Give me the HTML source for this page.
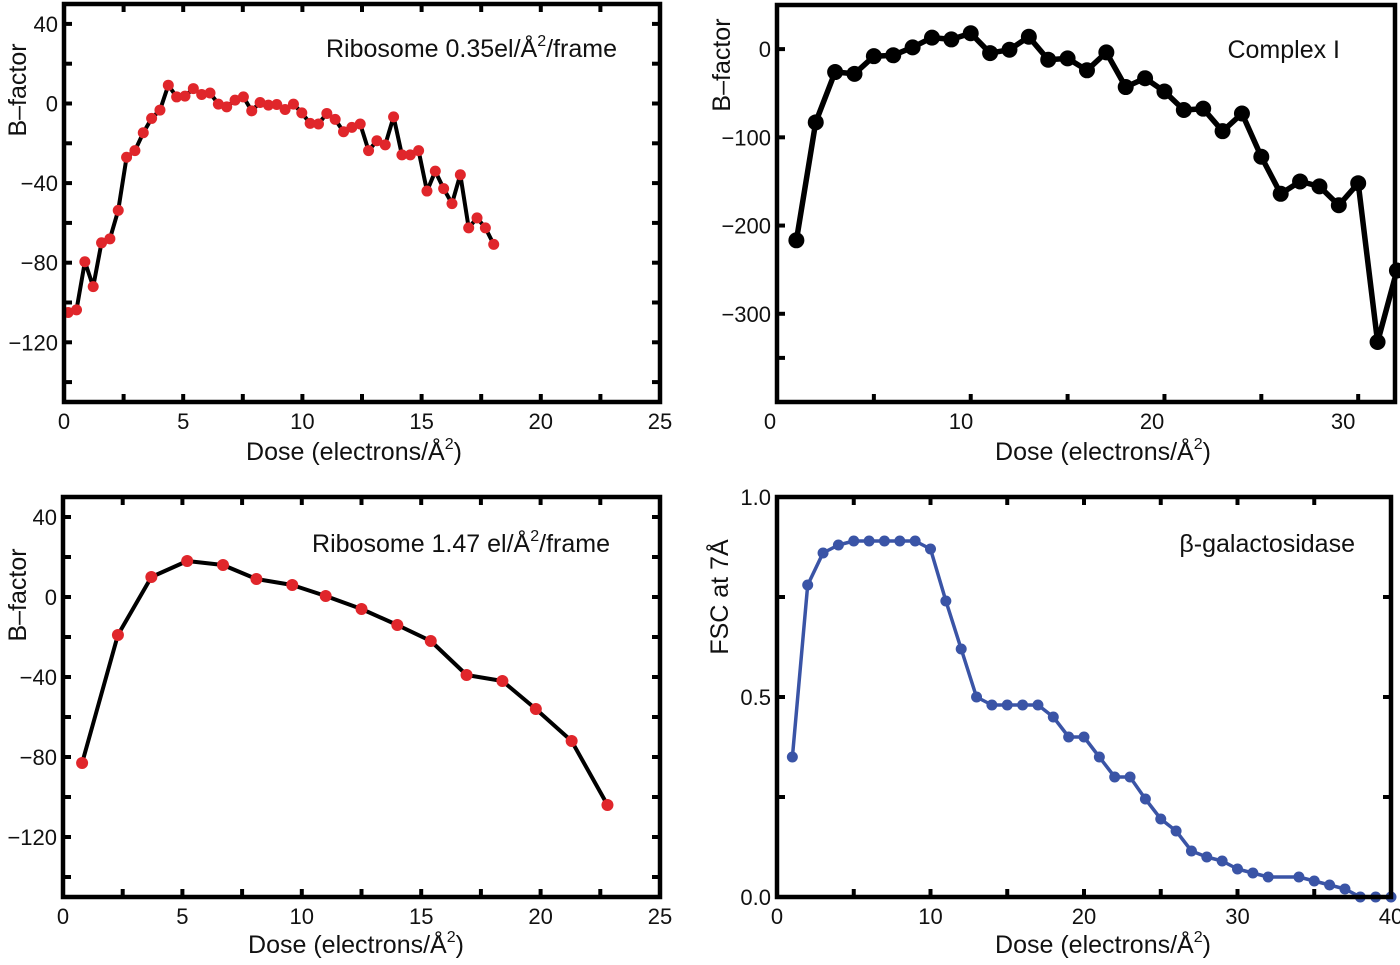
<!DOCTYPE html>
<html><head><meta charset="utf-8"><style>
body{margin:0;background:#fff;}
svg text{font-family:"Liberation Sans Narrow","Liberation Sans",sans-serif;fill:#111;}
</style></head><body>
<svg id="fig" width="1400" height="960" viewBox="0 0 1400 960" xmlns="http://www.w3.org/2000/svg"></svg>
<script>
// Panel A: Ribosome 0.35 el/Å²/frame
const riboAStart = 0.175, riboAStep = 0.35;
const riboAValues = [-105,-103.7,-79.5,-92,-70,-68,-53.7,-27,-23.7,-14.7,-7.5,-3.3,9.2,3.3,3.7,7.5,4.5,5.3,-0.3,-1.7,1.7,3.3,-3.7,0.5,-0.8,-0.5,-3,-0.3,-4.7,-10,-10.3,-5,-8,-14.2,-12,-10.3,-23.7,-18.7,-20.8,-6.7,-25.8,-25.8,-23.7,-44,-34,-42.8,-50.3,-35.8,-62.5,-57.5,-62.5,-70.8];
const riboATicksX = [0,5,10,15,20,25];
const riboATicksY = [40,0,-40,-80,-120];
// Panel B: Complex I
const cplxDose = [1,2,3,4,5,6,7,8,9,10,11,12,13,14,15,16,17,18,19,20,21,22,23,24,25,26,27,28,29,30,31,32];
const cplxB = [-216.7,-83,-26,-28,-8,-7,2,13,11,18,-4.5,-0.7,14,-12,-10.5,-24,-3.7,-43,-33,-48,-69,-67.5,-93,-73,-122,-164,-150,-155.6,-177,-152,-332,-251];
const cplxTicksX = [0,10,20,30];
const cplxTicksY = [0,-100,-200,-300];
// Panel C: Ribosome 1.47 el/Å²/frame
const riboCDose = [0.8,2.3,3.7,5.2,6.7,8.1,9.6,11.0,12.5,14.0,15.4,16.9,18.4,19.8,21.3,22.8];
const riboCB = [-83,-19,10,18,16,9,6,0.5,-6,-14,-22,-39,-42,-56,-72,-104];
// Panel D: beta-galactosidase
const galDose = [1,2,3,4,5,6,7,8,9,10,11,12,13,14,15,16,17,18,19,20,21,22,23,24,25,26,27,28,29,30,31,32,34,35,36,37,38,39,40];
const galFSC = [0.35,0.78,0.86,0.88,0.89,0.89,0.89,0.89,0.89,0.87,0.74,0.62,0.50,0.48,0.48,0.48,0.48,0.45,0.40,0.40,0.35,0.30,0.30,0.245,0.195,0.165,0.115,0.10,0.09,0.07,0.06,0.05,0.05,0.04,0.03,0.02,0.0,0.0,0.0];
const galTicksX = [0,10,20,30,40];
const galTicksY = [0.0,0.5,1.0];

const NS = "http://www.w3.org/2000/svg";
const svg = document.getElementById('fig');
function mk(tag, attrs, parent){const e=document.createElementNS(NS,tag);for(const k in attrs)e.setAttribute(k,attrs[k]);(parent||svg).appendChild(e);return e;}
function txt(s, x, y, size, anchor, parent, rot){
  const t=mk('text',{x:x,y:y,'font-size':size,'text-anchor':anchor||'middle'},parent);
  if(rot) t.setAttribute('transform','rotate(-90 '+x+' '+y+')');
  t.textContent=s; return t;
}
function doseLabel(cx, y, parent){
  const t=mk('text',{x:cx,y:y,'font-size':25,'text-anchor':'middle'},parent);
  
  
  t.appendChild(document.createTextNode('Dose (electrons/Å'));
  const s=mk('tspan',{'font-size':16,dy:-11},t); s.textContent='2';
  const s2=mk('tspan',{dy:11},t); s2.textContent=')';
}
function panel(o){
  const g=mk('g',{});
  
  
  const X=v=>o.x0+(v-o.xmin)/(o.xmax-o.xmin)*(o.x1-o.x0);
  const Y=v=>o.y1-(v-o.ymin)/(o.ymax-o.ymin)*(o.y1-o.y0);
  o.xt.forEach(v=>{const px=X(v);
    mk('line',{x1:px,x2:px,y1:o.y1,y2:o.y1-8,stroke:'#000','stroke-width':4},g);
    if(o.topTicks) mk('line',{x1:px,x2:px,y1:o.y0,y2:o.y0+8,stroke:'#000','stroke-width':4},g);});
  o.yt.forEach(v=>{const py=Y(v);
    mk('line',{x1:o.x0,x2:o.x0+8,y1:py,y2:py,stroke:'#000','stroke-width':4},g);
    if(o.rightTicks) mk('line',{x1:o.x1,x2:o.x1-8,y1:py,y2:py,stroke:'#000','stroke-width':4},g);});
  let d='';
  o.xs.forEach((v,i)=>{d+=(i?'L':'M')+X(v).toFixed(1)+' '+Y(o.ys[i]).toFixed(1);});
  const p=mk('path',{d:d,fill:'none',stroke:o.lineColor,'stroke-width':o.lw,'stroke-linejoin':'round'},g);
  
  
  o.xs.forEach((v,i)=>{
    const c=mk('circle',{cx:X(v),cy:Y(o.ys[i]),r:o.r,fill:o.mColor},g);
    
    
  });
  const f=mk('rect',{x:o.x0,y:o.y0,width:o.x1-o.x0,height:o.y1-o.y0,fill:'none',stroke:'#000','stroke-width':4.5},g);
  
  
  o.xl.forEach(v=>{const t=txt(String(v),X(v)+(o.xlOff?o.xlOff(v):0),o.y1+27,22,'middle',g);
    
    });
  o.yl.forEach(v=>{const s=(o.fmt?o.fmt(v):String(v)).replace('-','\u2212');
    const t=txt(s,o.x0-6,Y(v)+8,22,'end',g);
    
    });
  return g;
}
function rng(a,b,s){const r=[];for(let v=a;v<=b+1e-9;v+=s)r.push(+v.toFixed(4));return r;}

const riboADose = riboAValues.map((v,i)=>riboAStart+i*riboAStep);
const gA=panel({name:'panel-ribosome-035',x0:64,x1:660,y0:4,y1:402,xmin:0,xmax:25,ymin:-150,ymax:50,
  xt:rng(0,25,2.5),yt:rng(-140,40,20),topTicks:true,rightTicks:true,xs:riboADose,ys:riboAValues,
  lineColor:'#000',lw:4,r:5.5,mColor:'#e0262b',xl:riboATicksX,yl:riboATicksY});
const gB=panel({name:'panel-complex-i',x0:777,x1:1395,y0:5,y1:402,xmin:0,xmax:31.9,ymin:-400,ymax:50,
  xt:rng(0,30,5),yt:[0,-100,-200,-300,-350],xs:cplxDose,ys:cplxB,
  lineColor:'#000',lw:5.5,r:8,mColor:'#000',xl:cplxTicksX,yl:cplxTicksY,xlOff:v=>-7-v*0.27});
const gC=panel({name:'panel-ribosome-147',x0:63,x1:660,y0:497,y1:897,xmin:0,xmax:25,ymin:-150,ymax:50,
  xt:rng(0,25,2.5),yt:rng(-140,40,20),topTicks:true,rightTicks:true,xs:riboCDose,ys:riboCB,
  lineColor:'#000',lw:4,r:6,mColor:'#e0262b',xl:riboATicksX,yl:riboATicksY});
const gD=panel({name:'panel-beta-galactosidase',x0:777,x1:1391,y0:497,y1:897,xmin:0,xmax:40,ymin:0,ymax:1,
  xt:rng(0,40,5),yt:rng(0,1,0.25),topTicks:true,rightTicks:true,xs:galDose,ys:galFSC,
  lineColor:'#3a54a6',lw:3.5,r:5.5,mColor:'#3a54a6',xl:galTicksX,yl:galTicksY,fmt:v=>v.toFixed(1)});

[[gA,26,90,'B\u2013factor'],[gB,730,65,'B\u2013factor'],[gC,26,595,'B\u2013factor'],[gD,728,597,'FSC at 7Å']].forEach(a=>{
  const t=txt(a[3],a[1],a[2],25,'middle',a[0],true);
  
  
});
doseLabel(354,460,gA);
doseLabel(1103,460,gB);
doseLabel(356,953,gC);
doseLabel(1103,953,gD);

function note(parent,x,y,pre,post){
  const t=mk('text',{x:x,y:y,'font-size':25,'text-anchor':'end'},parent);
  
  
  t.appendChild(document.createTextNode(pre));
  if(post!==undefined){
    const s=mk('tspan',{'font-size':16,dy:-11},t); s.textContent='2';
    const r=mk('tspan',{dy:11},t); r.textContent=post;
  }
}
note(gA,617,57,'Ribosome 0.35el/Å','/frame');
note(gB,1340,58,'Complex I');
note(gC,610,552,'Ribosome 1.47 el/Å','/frame');
note(gD,1355,552,'β-galactosidase');
</script>
</body></html>
